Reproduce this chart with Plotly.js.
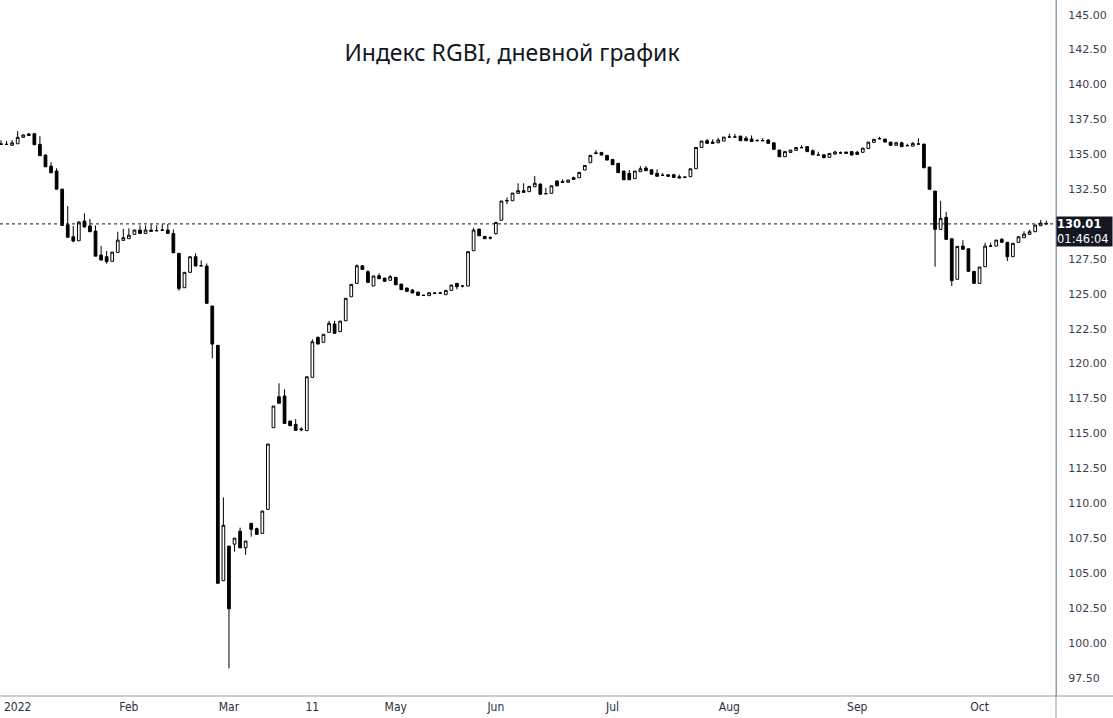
<!DOCTYPE html>
<html><head><meta charset="utf-8">
<script src="https://cdn.plot.ly/plotly-3.0.1.min.js"></script>
<style>html,body{margin:0;padding:0;background:#fff}#chart{width:1113px;height:718px}</style>
</head><body><div id="chart"></div>
<script>
// Daily candles (bar index order)
const opens = [135.70,135.72,135.64,135.75,136.21,136.45,136.47,135.71,134.94,134.15,133.80,132.50,129.95,129.09,128.80,130.21,129.86,129.50,127.78,127.66,
127.33,127.97,128.83,128.95,129.26,129.57,129.33,129.57,129.53,129.57,129.57,129.33,127.90,125.44,126.54,127.66,127.02,126.99,124.13,121.31,
104.45,106.93,107.07,108.00,106.81,108.56,108.18,107.84,109.56,115.41,117.63,117.68,115.89,115.65,115.32,115.20,119.02,121.88,121.53,122.24,
122.84,122.29,123.07,124.79,125.75,127.01,126.58,125.56,126.30,126.13,125.97,126.18,125.70,125.42,125.27,125.13,124.90,124.87,125.02,125.06,
124.94,125.25,125.75,125.57,125.56,128.09,129.64,129.12,129.02,129.31,130.27,131.69,131.67,132.20,132.39,132.32,132.67,132.87,132.18,132.20,
133.08,133.05,132.99,133.32,133.32,133.87,134.39,135.10,135.13,134.92,134.63,134.35,133.80,133.63,133.25,133.75,134.01,133.89,133.63,133.50,
133.53,133.53,133.39,133.36,133.39,133.96,135.49,135.97,135.87,135.82,135.95,136.24,136.24,136.30,136.15,136.09,135.98,135.98,136.02,135.82,
135.30,134.82,135.13,135.28,135.48,135.55,135.25,134.95,134.96,134.78,135.01,135.10,135.16,135.19,135.14,135.14,135.41,135.85,136.12,136.09,
135.87,135.64,135.82,135.62,135.58,135.74,135.73,134.08,132.36,129.62,130.48,128.95,126.04,128.42,128.23,126.61,125.75,126.94,128.43,128.42,
128.90,128.69,127.66,128.69,129.02,129.26,129.45,129.88,130.05];
const highs = [136.00,135.95,136.02,136.66,136.42,136.52,136.50,136.30,135.00,134.44,134.00,132.50,131.29,129.86,130.20,130.77,130.36,129.90,128.42,128.07,
127.99,129.45,129.66,129.70,129.60,129.90,129.90,129.98,129.90,129.98,130.00,129.62,127.90,126.54,127.66,127.90,127.40,127.18,124.13,121.31,
110.42,106.93,107.50,108.25,107.29,108.56,108.25,109.44,114.24,116.96,118.59,118.16,115.89,116.03,115.45,119.06,121.74,121.95,122.10,123.07,
123.07,123.05,124.68,125.68,127.11,127.01,126.70,126.28,126.47,126.13,126.35,126.18,125.70,125.42,125.35,125.13,124.90,125.08,125.10,125.15,
125.25,125.63,125.75,125.57,128.02,129.73,129.64,129.12,129.12,130.12,131.65,131.91,132.22,132.92,132.92,132.70,133.44,132.87,132.60,132.74,
133.15,133.20,133.15,133.40,133.70,134.20,134.92,135.30,135.13,134.92,134.63,134.35,133.80,133.87,133.80,134.15,134.15,133.89,133.92,133.65,
133.53,133.60,133.55,133.45,133.96,135.49,135.95,136.09,136.07,136.18,136.23,136.47,136.45,136.30,136.30,136.35,136.09,136.16,136.09,135.82,
135.30,135.19,135.30,135.48,135.66,135.55,135.35,135.18,134.96,135.06,135.25,135.20,135.16,135.19,135.25,135.44,135.87,136.07,136.25,136.09,
135.87,135.90,135.90,135.75,135.88,136.14,135.73,134.08,132.36,131.67,130.88,128.95,128.40,128.85,128.23,126.61,126.92,128.66,128.66,128.85,
129.00,128.69,128.62,129.09,129.48,129.60,129.93,130.29,130.24];
const lows = [135.70,135.68,135.64,135.75,136.21,136.35,135.68,134.90,134.10,133.67,132.50,129.90,129.05,128.70,128.80,129.73,129.45,127.70,127.42,127.16,
127.33,127.97,128.83,128.95,129.26,129.33,129.33,129.48,129.52,129.56,129.33,127.94,125.22,125.44,126.54,126.99,127.00,124.32,120.38,104.26,
104.45,98.17,106.53,106.80,106.30,107.60,107.77,107.84,109.56,115.41,117.16,115.72,115.55,115.22,115.15,115.20,119.02,121.40,121.53,122.24,
122.17,122.29,123.07,124.79,125.75,126.75,125.82,125.56,126.08,125.90,125.97,125.65,125.30,125.18,125.06,124.89,124.88,124.87,125.02,125.05,
124.94,125.25,125.32,125.45,125.56,128.09,129.16,128.95,128.90,129.26,130.27,131.43,131.67,132.20,132.27,132.32,132.67,132.13,132.17,132.20,
132.74,132.99,132.99,133.20,133.32,133.87,134.39,135.05,134.94,134.58,134.25,133.68,133.17,133.17,133.25,133.75,133.82,133.57,133.42,133.49,
133.42,133.34,133.30,133.35,133.39,133.96,135.49,135.78,135.78,135.82,135.95,136.23,136.23,135.97,135.97,135.92,135.97,135.97,135.78,135.35,
134.82,134.82,135.13,135.28,135.47,135.19,134.96,134.94,134.75,134.78,135.01,135.09,135.06,134.94,134.99,135.14,135.41,135.85,136.11,135.87,
135.64,135.64,135.54,135.61,135.58,135.73,134.03,132.49,126.94,129.62,128.90,125.56,126.04,128.19,126.61,125.75,125.75,126.94,128.42,128.42,
128.69,127.35,127.66,128.69,129.02,129.26,129.45,129.88,130.01];
const closes = [135.74,135.70,135.82,136.21,136.38,136.35,135.68,134.90,134.10,133.67,132.50,129.90,129.05,128.78,130.14,129.80,129.45,127.70,127.42,127.30,
127.99,128.85,129.02,129.20,129.57,129.33,129.57,129.48,129.52,129.56,129.33,127.94,125.39,126.54,127.66,126.99,127.00,124.32,121.40,104.26,
108.42,102.44,107.50,106.80,107.29,108.13,107.77,109.44,114.24,116.96,117.16,115.72,115.55,115.22,115.27,119.06,121.57,121.40,122.10,122.89,
122.17,123.05,124.68,125.68,127.01,126.75,125.82,126.28,126.08,125.90,126.23,125.65,125.30,125.18,125.06,124.89,124.89,125.08,125.06,125.05,
125.25,125.63,125.51,125.56,128.02,129.57,129.16,128.95,129.00,130.12,131.65,131.66,132.22,132.39,132.27,132.70,132.92,132.13,132.17,132.74,
132.74,132.99,133.15,133.20,133.70,134.20,134.92,135.05,134.94,134.58,134.25,133.68,133.17,133.17,133.80,133.96,133.82,133.57,133.42,133.49,
133.42,133.34,133.30,133.35,133.96,135.49,135.95,135.78,135.78,136.02,136.23,136.23,136.23,135.97,135.97,135.92,135.97,135.97,135.78,135.35,
134.82,135.19,135.30,135.48,135.47,135.19,134.96,134.94,134.75,135.06,135.16,135.09,135.06,134.94,134.99,135.44,135.87,136.07,136.11,135.87,
135.64,135.82,135.54,135.61,135.78,135.73,134.03,132.49,129.62,130.41,128.90,125.94,128.40,128.19,126.61,125.75,126.92,128.42,128.42,128.85,
128.69,127.66,128.62,129.09,129.28,129.45,129.93,130.07,130.01];

const tickIdx  = [3, 23, 41, 56, 71, 89, 110, 131, 154, 176];
const tickText = ['2022','Feb','Mar','11','May','Jun','Jul','Aug','Sep','Oct'];
// 130.00 is hidden behind the last-price label in the reference
const priceTicks = [97.5,100,102.5,105,107.5,110,112.5,115,117.5,120,122.5,125,127.5,132.5,135,137.5,140,142.5,145];
const lastPrice = 130.01;
const lastLabel = '01:46:04';
const titleText = 'Индекс RGBI, дневной график';

const idx = opens.map((_, i) => i);

const trace = {
  type: 'candlestick',
  x: idx, open: opens, high: highs, low: lows, close: closes,
  whiskerwidth: 0,
  increasing: {line: {color: '#000000', width: 1}, fillcolor: '#ffffff'},
  decreasing: {line: {color: '#000000', width: 1}, fillcolor: '#000000'},
  hoverinfo: 'skip', showlegend: false
};

const axisGray = '#9a9ca3';
const layout = {
  width: 1113, height: 718,
  margin: {l: 0, r: 57, t: 0, b: 22, pad: 0},
  paper_bgcolor: '#ffffff', plot_bgcolor: '#ffffff',
  showlegend: false,
  boxgap: 0.3,
  title: {text: titleText, x: 512/1113, xanchor: 'center', y: 1 - 53/718, yanchor: 'middle',
          font: {family: 'Noto Sans, Open Sans, sans-serif', size: 23, color: '#131722'}},
  xaxis: {
    range: [-0.18, 189.75], rangeslider: {visible: false},
    showgrid: false, zeroline: false, showline: false, ticks: '',
    tickmode: 'array', tickvals: tickIdx, ticktext: tickText,
    tickfont: {family: "'Liberation Sans Narrow', 'DejaVu Sans Condensed', sans-serif", size: 12, color: '#2a2e39'},
    ticklabelstandoff: 2, fixedrange: true
  },
  yaxis: {
    side: 'right', range: [96.19, 146.05],
    showgrid: false, zeroline: false, showline: true, linecolor: axisGray, linewidth: 1,
    ticks: '', tickmode: 'array', tickvals: priceTicks,
    ticktext: priceTicks.map(v => v.toFixed(2)),
    tickfont: {family: 'DejaVu Sans, sans-serif', size: 11, color: '#3a3e49'},
    ticklabelstandoff: 9, fixedrange: true
  },
  shapes: [
    {type: 'line', xref: 'paper', yref: 'y', x0: 0, x1: 1, y0: lastPrice, y1: lastPrice,
     line: {color: '#131722', width: 1, dash: 'dot'}},
    {type: 'line', xref: 'paper', yref: 'paper', x0: 0, x1: 1113/1056, y0: 0, y1: 0,
     line: {color: axisGray, width: 1}},
    {type: 'line', xref: 'paper', yref: 'paper', x0: 1, x1: 1, y0: -22/696, y1: 1,
     line: {color: axisGray, width: 1}}
  ],
  annotations: [
    {xref: 'paper', yref: 'y', x: 1, xanchor: 'left', xshift: 0, y: 129.48, yanchor: 'middle',
     text: '<b>' + lastPrice.toFixed(2) + '</b><br>' + lastLabel, showarrow: false, align: 'left',
     bgcolor: '#131722', width: 55, height: 29, borderpad: 0,
     font: {family: 'DejaVu Sans, sans-serif', size: 11.5, color: '#ffffff'}}
  ]
};

Plotly.newPlot('chart', [trace], layout, {staticPlot: true, displayModeBar: false});
</script></body></html>
